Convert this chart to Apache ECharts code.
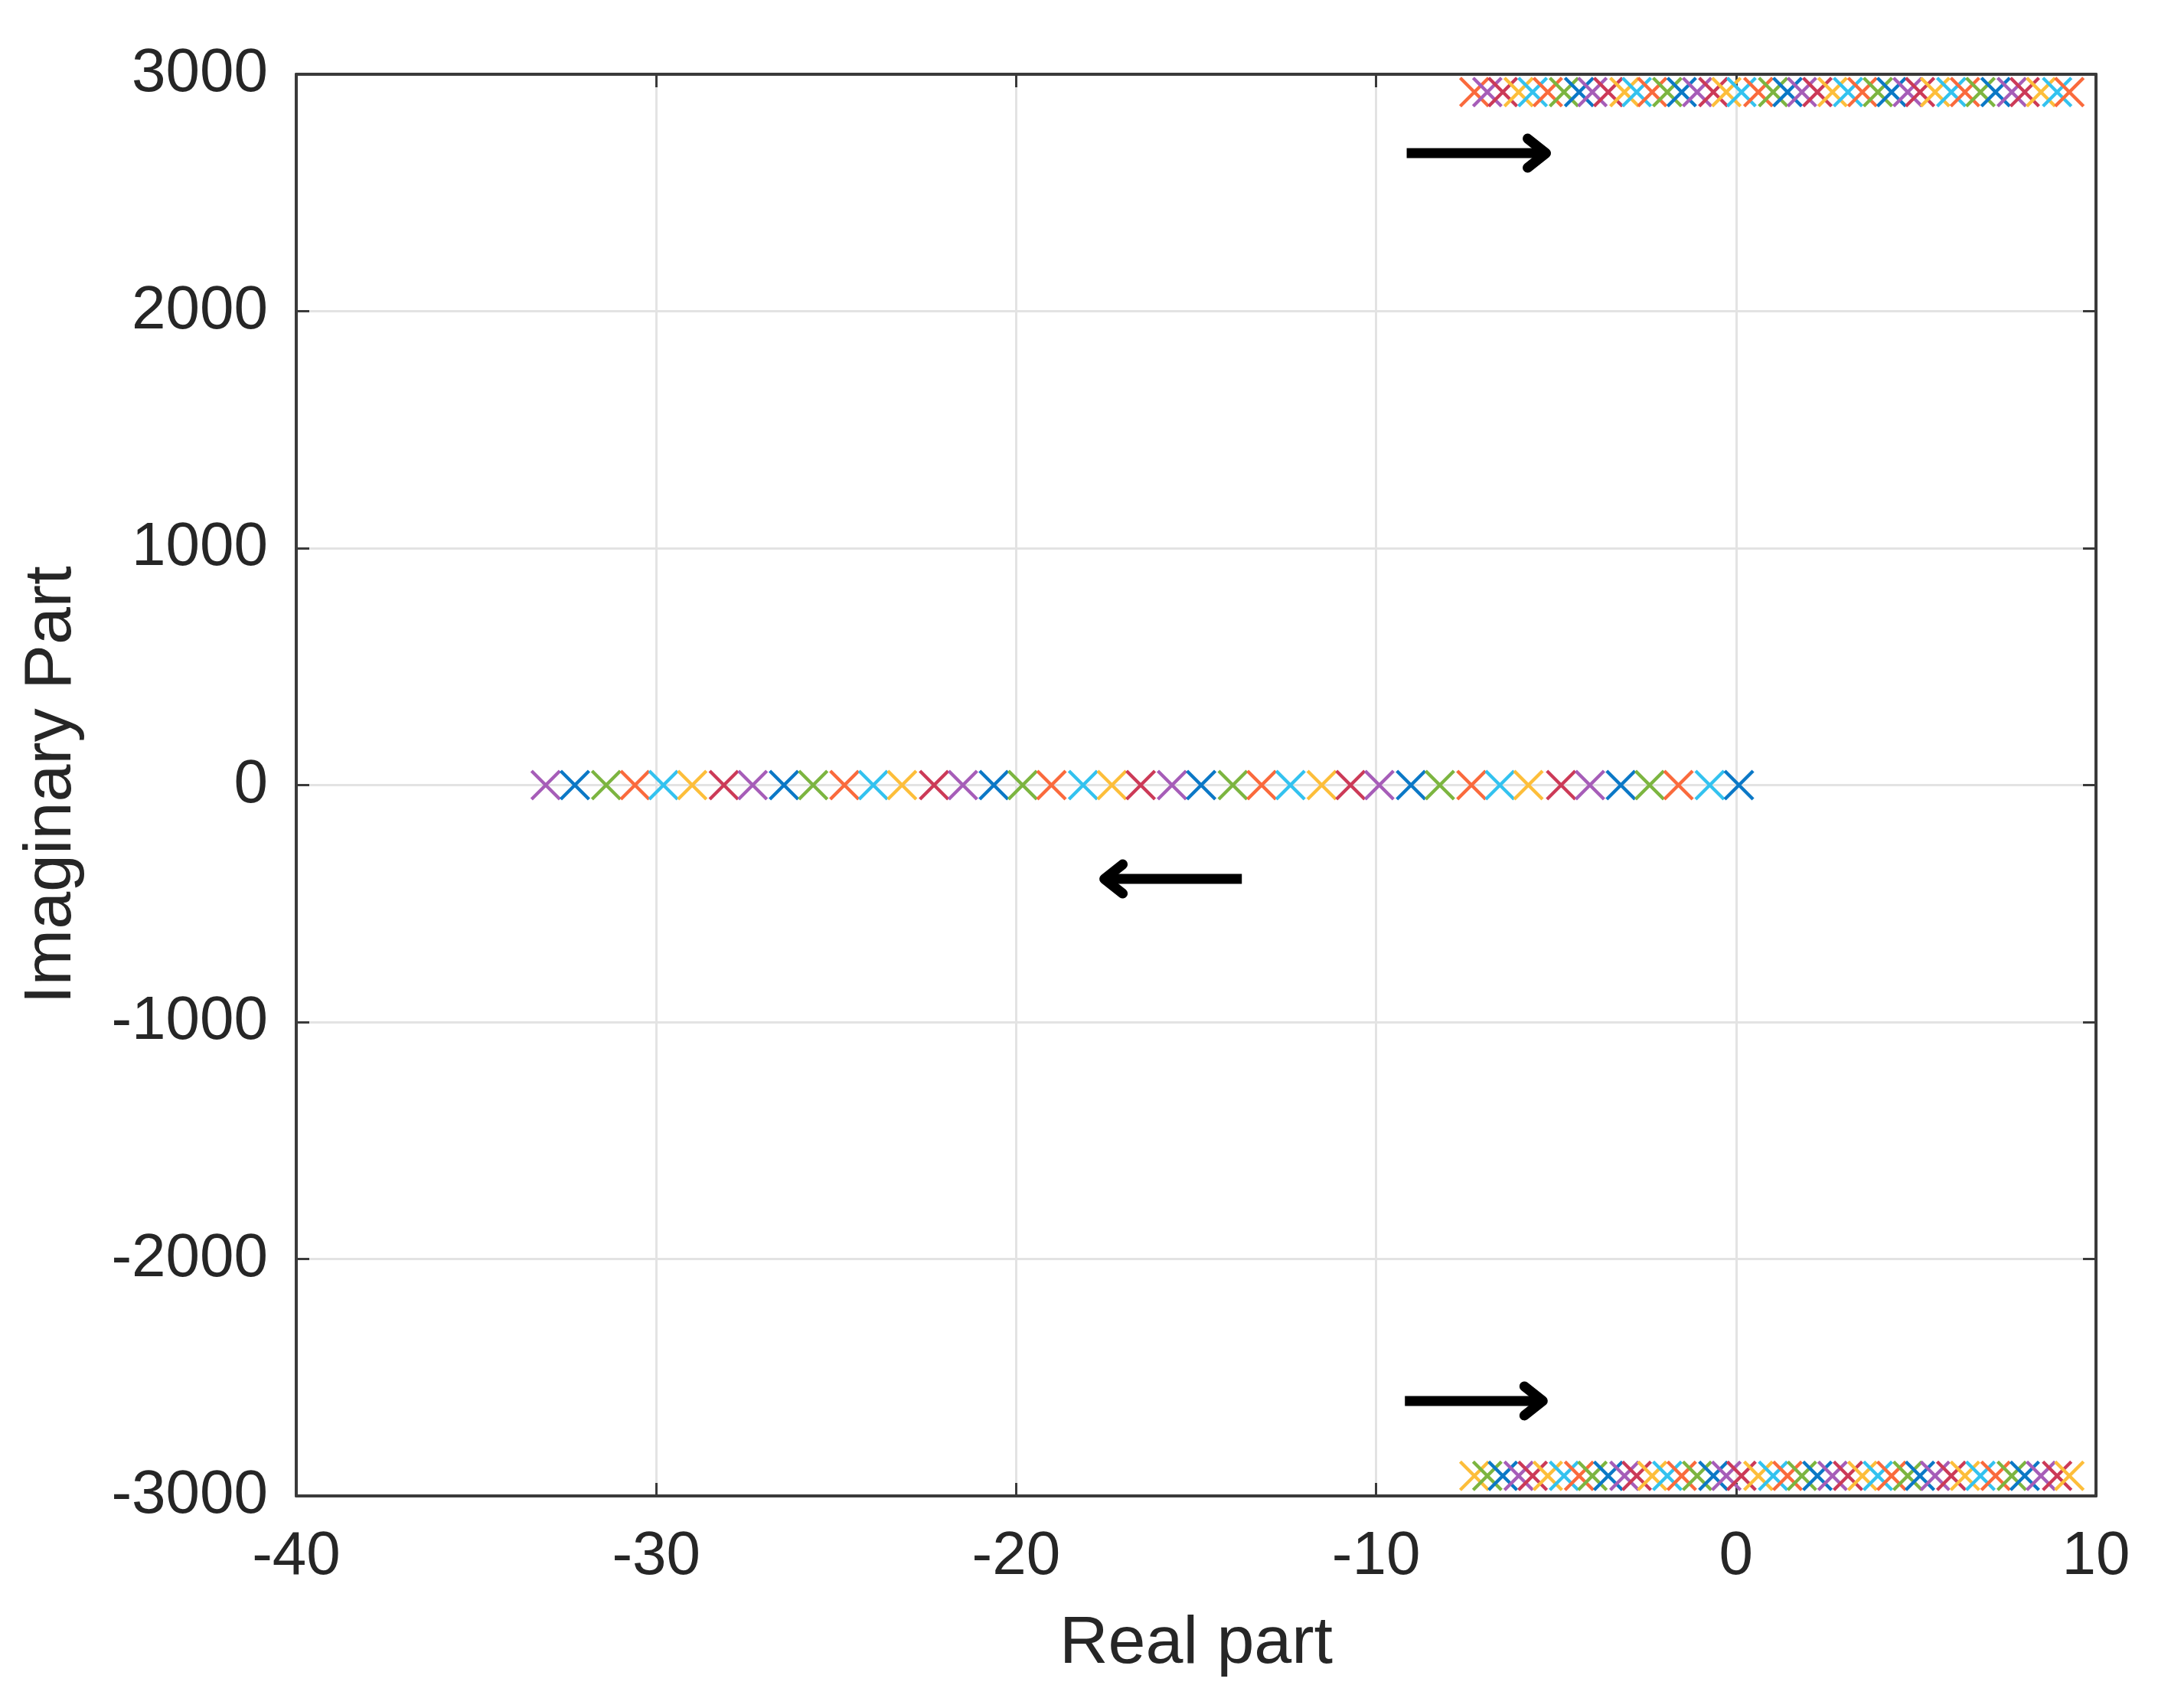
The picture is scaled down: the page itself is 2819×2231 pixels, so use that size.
<!DOCTYPE html>
<html>
<head>
<meta charset="utf-8">
<script src="https://cdn.jsdelivr.net/npm/echarts@6/dist/echarts.min.js"></script>
<style>
html,body{margin:0;padding:0;background:#fff;}
#chart{width:2819px;height:2231px;}
</style>
</head>
<body>
<div id="chart"></div>
<script>
// ---- tick labels / axis ranges ----
const xTicks = [-40, -30, -20, -10, 0, 10];
const yTicks = [-3000, -2000, -1000, 0, 1000, 2000, 3000];

// ---- real-axis branch (Im = 0), read left to right ----
const realBranchRe = [-33.07, -32.26, -31.39, -30.59, -29.80, -29.00, -28.12, -27.32, -26.45, -25.64,
  -24.77, -23.97, -23.17, -22.28, -21.48, -20.62, -19.82, -19.02, -18.14, -17.34,
  -16.54, -15.67, -14.86, -13.98, -13.18, -12.38, -11.51, -10.71, -9.91, -9.03,
  -8.23, -7.35, -6.56, -5.77, -4.86, -4.06, -3.20, -2.40, -1.60, -0.73, 0.08];
const realBranchIm = 0;
const realBranchColors = ['P','B','G','O','C','Y','R','P','B','G','O','C','Y','R','P','B','G','O','C','Y','R',
  'P','B','G','O','C','Y','R','P','B','G','O','C','Y','R','P','B','G','O','C','B'];

// ---- complex branches (upper / lower), read left to right ----
const complexBranchRe = [-7.27, -6.91, -6.48, -6.04, -5.65, -5.23, -4.78, -4.36, -3.99, -3.55,
  -3.10, -2.76, -2.33, -1.91, -1.51, -1.08, -0.63, -0.27, 0.15, 0.62,
  1.03, 1.43, 1.83, 2.26, 2.68, 3.11, 3.51, 3.94, 4.32, 4.77,
  5.11, 5.53, 5.98, 6.36, 6.79, 7.21, 7.66, 8.02, 8.47, 8.92, 9.26];
const upperBranchIm = 2925;
const lowerBranchIm = -2915;
const upperBranchColors = ['O','P','R','Y','C','O','G','B','P','R','Y','C','O','G','B','P','R','Y','C','O','G',
  'B','P','R','Y','C','O','G','B','P','R','Y','C','O','G','B','P','R','Y','C','O'];
const lowerBranchColors = ['Y','G','B','P','R','Y','C','O','G','B','P','R','Y','C','O','G','B','P','R','Y','C',
  'O','G','B','P','R','Y','C','O','G','B','P','R','Y','C','O','G','B','P','R','Y'];

// ---- direction arrows: tail Re, tip Re, Im ----
const arrowTailRe = [-9.15, -13.73, -9.20];
const arrowTipRe  = [-5.28, -17.55, -5.37];
const arrowIm     = [2667, -396, -2599];

// ---- styling ----
const palette = {P:'#A65DB8', B:'#0B78C6', G:'#7CB540', O:'#FA6A3C', C:'#33C2EF', Y:'#FDBE3A', R:'#CC3A57'};
const FONT = '"Liberation Sans", Arial, sans-serif';
const TEXT = '#262626';
const AXIS = '#3a3a3a';

function buildPoints(reArr, im, colors) {
  return reArr.map((re, i) => [re, im, colors[i]]);
}
const markerData = []
  .concat(buildPoints(realBranchRe, realBranchIm, realBranchColors))
  .concat(buildPoints(complexBranchRe, upperBranchIm, upperBranchColors))
  .concat(buildPoints(complexBranchRe, lowerBranchIm, lowerBranchColors));

const arrowData = arrowTailRe.map((t, i) => [t, arrowTipRe[i], arrowIm[i]]);

function renderCross(params, api) {
  const p = api.coord([api.value(0), api.value(1)]);
  const h = 18.5;
  const col = palette[markerData[params.dataIndex][2]];
  const st = {stroke: col, lineWidth: 4.4, lineCap: 'butt', fill: null};
  return {
    type: 'group',
    children: [
      {type: 'line', shape: {x1: p[0]-h, y1: p[1]-h, x2: p[0]+h, y2: p[1]+h}, style: st},
      {type: 'line', shape: {x1: p[0]-h, y1: p[1]+h, x2: p[0]+h, y2: p[1]-h}, style: st}
    ]
  };
}

function renderArrow(params, api) {
  const a = api.coord([api.value(0), api.value(2)]);
  const b = api.coord([api.value(1), api.value(2)]);
  const d = b[0] > a[0] ? 1 : -1;
  const hx = 24, hy = 19;
  return {
    type: 'group',
    children: [
      {type: 'line', shape: {x1: a[0], y1: a[1], x2: b[0] - d*4, y2: b[1]},
       style: {stroke: '#000', lineWidth: 13, lineCap: 'butt'}},
      {type: 'polyline', shape: {points: [[b[0]-d*hx, b[1]-hy], [b[0], b[1]], [b[0]-d*hx, b[1]+hy]]},
       style: {stroke: '#000', lineWidth: 13, lineCap: 'round', lineJoin: 'round', fill: null}}
    ]
  };
}

const axisLineStyle = {show: true, onZero: false, lineStyle: {color: AXIS, width: 4}};
const tickStyle = {show: true, inside: true, length: 17, lineStyle: {color: AXIS, width: 3}};
const splitStyle = {show: true, lineStyle: {color: '#e3e3e3', width: 3}};
const labelStyle = {fontFamily: FONT, fontSize: 80, color: TEXT, formatter: v => String(v)};

const chart = echarts.init(document.getElementById('chart'), null, {renderer: 'canvas'});
chart.setOption({
  backgroundColor: '#ffffff',
  animation: false,
  grid: {left: 387, right: 81, top: 97, bottom: 277, containLabel: false},
  xAxis: [
    {type: 'value', min: xTicks[0], max: xTicks[xTicks.length-1], interval: 10, position: 'bottom',
     name: 'Real part', nameLocation: 'middle', nameGap: 150,
     nameTextStyle: {fontFamily: FONT, fontSize: 88, color: TEXT},
     axisLine: axisLineStyle, axisTick: tickStyle, splitLine: splitStyle,
     axisLabel: Object.assign({margin: 40, showMinLabel: true, showMaxLabel: true}, labelStyle)},
    {type: 'value', min: xTicks[0], max: xTicks[xTicks.length-1], interval: 10, position: 'top',
     axisLine: axisLineStyle, axisTick: tickStyle, splitLine: {show: false}, axisLabel: {show: false}}
  ],
  yAxis: [
    {type: 'value', min: yTicks[0], max: yTicks[yTicks.length-1], interval: 1000, position: 'left',
     name: 'Imaginary Part', nameLocation: 'middle', nameGap: 275, nameRotate: 90,
     nameTextStyle: {fontFamily: FONT, fontSize: 88, color: TEXT},
     axisLine: axisLineStyle, axisTick: tickStyle, splitLine: splitStyle,
     axisLabel: Object.assign({margin: 37, showMinLabel: true, showMaxLabel: true}, labelStyle)},
    {type: 'value', min: yTicks[0], max: yTicks[yTicks.length-1], interval: 1000, position: 'right',
     axisLine: axisLineStyle, axisTick: tickStyle, splitLine: {show: false}, axisLabel: {show: false}}
  ],
  series: [
    {type: 'custom', name: 'poles', renderItem: renderCross, data: markerData.map(p => [p[0], p[1]]),
     xAxisIndex: 0, yAxisIndex: 0, clip: false, z: 3},
    {type: 'custom', name: 'arrows', renderItem: renderArrow, data: arrowData,
     encode: {x: [0, 1], y: 2}, xAxisIndex: 0, yAxisIndex: 0, z: 4}
  ]
});
</script>
</body>
</html>
